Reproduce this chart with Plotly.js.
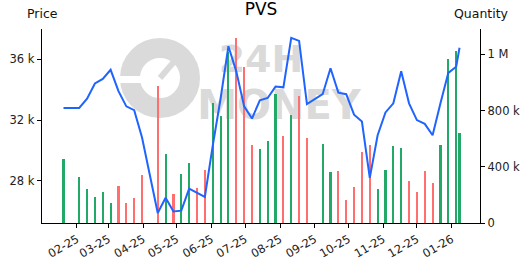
<!DOCTYPE html>
<html>
<head>
<meta charset="utf-8">
<script src="https://cdn.plot.ly/plotly-3.0.1.min.js"></script>
<style>html,body{margin:0;padding:0;background:#fff;}#chart{width:529px;height:268px;}</style>
</head>
<body>
<div id="chart"></div>
<script>
const dates = ['2025-01-20','2025-02-03','2025-02-10','2025-02-17','2025-02-24','2025-03-03','2025-03-10','2025-03-17','2025-03-24','2025-03-31',
  '2025-04-14','2025-04-21','2025-04-28','2025-05-05','2025-05-12','2025-05-19','2025-05-26','2025-06-02','2025-06-09','2025-06-16',
  '2025-06-23','2025-06-30','2025-07-07','2025-07-14','2025-07-21','2025-07-28','2025-08-04','2025-08-11','2025-08-18','2025-08-25',
  '2025-09-08','2025-09-15','2025-09-22','2025-09-29','2025-10-06','2025-10-13','2025-10-20','2025-10-27','2025-11-03','2025-11-10',
  '2025-11-17','2025-11-24','2025-12-01','2025-12-08','2025-12-15','2025-12-22','2025-12-29','2026-01-05','2026-01-08'];
const prices = [32800,32800,33400,34400,34700,35300,33900,32900,32650,30850,
  25900,26900,26000,26050,27500,27200,26950,30300,33400,36850,
  35200,32900,32100,33300,33450,34200,34150,37400,37200,33050,
  33700,35400,33800,33700,32350,31900,28200,31000,32500,33100,
  35200,33100,32000,31750,31000,33100,35100,35500,36750];
const volumes = [453000,327000,242000,185000,220000,142000,263000,142000,178000,341000,
  975000,491000,206000,349000,427000,249000,377000,854000,763000,1216000,
  1318000,1112000,555000,526000,583000,915000,619000,768000,903000,605000,
  562000,363000,370000,166000,256000,505000,555000,242000,377000,548000,
  533000,299000,220000,370000,285000,555000,1167000,1223000,638000];
const monthTicks = ['2025-02-01','2025-03-01','2025-04-01','2025-05-01','2025-06-01','2025-07-01',
  '2025-08-01','2025-09-01','2025-10-01','2025-11-01','2025-12-01','2026-01-01'];
const monthLabels = ['02-25','03-25','04-25','05-25','06-25','07-25','08-25','09-25','10-25','11-25','12-25','01-26'];
const priceTicks = [28000,32000,36000];
const priceTickText = ['28 k','32 k','36 k'];
const volTicks = [0,400000,800000,1200000];
const volTickText = ['0','400 k','800 k','1 M'];

const UP = '#22a867', DOWN = '#ff6f6f', LINE = '#1f64ff';
const barColors = prices.map((p,i) => (i === 0 || p >= prices[i-1]) ? UP : DOWN);

const DAY = 86400000;
const font = 'DejaVu Sans, Liberation Sans, sans-serif';
const boldFont = '"DejaVu Sans Bold", "DejaVu Sans", sans-serif';

const bars = {
  type: 'bar', x: dates, y: volumes, yaxis: 'y',
  marker: {color: barColors, line: {width: 0}},
  width: 1.9 * DAY, hoverinfo: 'skip', showlegend: false
};
const line = {
  type: 'scatter', mode: 'lines', x: dates, y: prices, yaxis: 'y2',
  line: {color: LINE, width: 2}, showlegend: false
};

const gray = '#dadada';
const px = v => (v - 42) / 438;
const py = v => (223 - v) / 194;
const layout = {
  width: 529, height: 268,
  margin: {l: 42, r: 49, t: 29, b: 45, pad: 0},
  paper_bgcolor: '#fff', plot_bgcolor: '#fff',
  font: {family: font, size: 11.5, color: '#222'},
  title: {text: 'PVS', x: 0.5, xref: 'paper', xanchor: 'center', y: 0.99, yref: 'container', yanchor: 'top',
          font: {size: 17, color: '#000', family: font}},
  showlegend: false,
  bargap: 0,
  xaxis: {
    type: 'date', range: ['2024-12-31 20:00', '2026-01-26 06:00'],
    tickvals: monthTicks, ticktext: monthLabels, tickangle: -30,
    ticks: 'outside', ticklen: 4, tickcolor: '#000', tickwidth: 1,
    showline: true, linecolor: '#000', linewidth: 1.2, showgrid: false, zeroline: false,
    tickfont: {size: 11.5, color: '#222'}
  },
  yaxis: {
    side: 'right', range: [0, 1380000], tickvals: volTicks, ticktext: volTickText,
    ticks: 'outside', ticklen: 4, tickcolor: '#000', showline: true, linecolor: '#000', linewidth: 1.2,
    showgrid: false, zeroline: false, tickfont: {size: 11.5, color: '#222'}
  },
  yaxis2: {
    overlaying: 'y', side: 'left', range: [25240, 37980], tickvals: priceTicks, ticktext: priceTickText,
    ticks: 'outside', ticklen: 4, tickcolor: '#000', showline: true, linecolor: '#000', linewidth: 1.2,
    showgrid: false, zeroline: false, tickfont: {size: 11.5, color: '#222'}
  },
  annotations: [
    {text: 'Price', xref: 'paper', yref: 'paper', x: 0.0, y: 1.03, xanchor: 'center', yanchor: 'bottom',
     showarrow: false, font: {size: 12.5, color: '#111', family: font}},
    {text: 'Quantity', xref: 'paper', yref: 'paper', x: 1.0, y: 1.03, xanchor: 'left', yanchor: 'bottom', xshift: -28,
     showarrow: false, font: {size: 12.5, color: '#111', family: font}}
  ],
  shapes: [
    {type: 'circle', layer: 'below', xref: 'paper', yref: 'paper',
     x0: px(130), x1: px(190), y0: py(108), y1: py(48),
     line: {color: gray, width: 20}, fillcolor: 'rgba(0,0,0,0)'},
    {type: 'rect', layer: 'below', xref: 'paper', yref: 'paper',
     x0: px(112), x1: px(152), y0: py(83), y1: py(76),
     line: {width: 0}, fillcolor: '#fff'},
    {type: 'line', layer: 'below', xref: 'paper', yref: 'paper',
     x0: px(160), x1: px(184), y0: py(78), y1: py(50),
     line: {color: gray, width: 6}},
    {type: 'rect', layer: 'below', xref: 'paper', yref: 'paper',
     x0: px(212), x1: px(310), y0: py(78), y1: py(34),
     line: {width: 0}, fillcolor: 'rgba(0,0,0,0)',
     label: {text: '24H', textposition: 'middle center', font: {size: 38, color: gray, family: boldFont, weight: 700}}},
    {type: 'rect', layer: 'below', xref: 'paper', yref: 'paper',
     x0: px(172), x1: px(386), y0: py(125), y1: py(79),
     line: {width: 0}, fillcolor: 'rgba(0,0,0,0)',
     label: {text: 'MONEY', textposition: 'middle center', font: {size: 40, color: gray, family: boldFont, weight: 700}}}
  ]
};

Plotly.newPlot('chart', [bars, line], layout, {staticPlot: true, displayModeBar: false});
</script>
</body>
</html>
